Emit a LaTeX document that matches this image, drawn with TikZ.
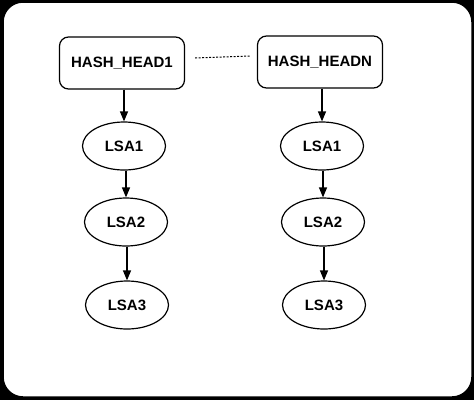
\documentclass[tikz,border=0pt]{standalone}
\usepackage{fontspec}
\setmainfont{Liberation Sans}
\usetikzlibrary{shapes.geometric,arrows.meta}
\begin{document}
\begin{tikzpicture}[x=1pt,y=-1pt,
  every node/.style={font=\fontsize{15}{18}\selectfont\bfseries, line width=1.2pt, draw=black},
  headbox/.style={rectangle, rounded corners=9pt, minimum width=125pt, minimum height=52pt, inner sep=0pt},
  lsa/.style={ellipse, minimum width=83pt, minimum height=48pt, inner sep=0pt},
  arr/.style={-{Triangle[length=10pt,width=8pt]}, line width=1.2pt}]
\useasboundingbox (0,0) rectangle (474,400);
\fill[black] (0,0) rectangle (474,400);
\draw[fill=white, line width=1.5pt, rounded corners=20pt] (3,2) rectangle (472,397);
\node[headbox] (h1) at (122,63) {HASH\_HEAD1};
\node[headbox] (hn) at (320,62) {HASH\_HEADN};
\node[lsa] (a1) at (124,146) {LSA1};
\node[lsa] (a2) at (126,222) {LSA2};
\node[lsa] (a3) at (127,305) {LSA3};
\node[lsa] (b1) at (322,146) {LSA1};
\node[lsa] (b2) at (323,222) {LSA2};
\node[lsa] (b3) at (324,305) {LSA3};
\draw[line width=1pt, dash pattern=on 2pt off 1.5pt] ([xshift=10pt,yshift=5pt]h1.east) -- ([xshift=-6pt,yshift=6pt]hn.west);
\draw[arr] (a1.north |- h1.south) -- (a1.north);
\draw[arr] (a2.north |- a1.south) -- (a2.north);
\draw[arr] (a3.north |- a2.south) -- (a3.north);
\draw[arr] (b1.north |- hn.south) -- (b1.north);
\draw[arr] (b2.north |- b1.south) -- (b2.north);
\draw[arr] (b3.north |- b2.south) -- (b3.north);
\end{tikzpicture}
\end{document}
